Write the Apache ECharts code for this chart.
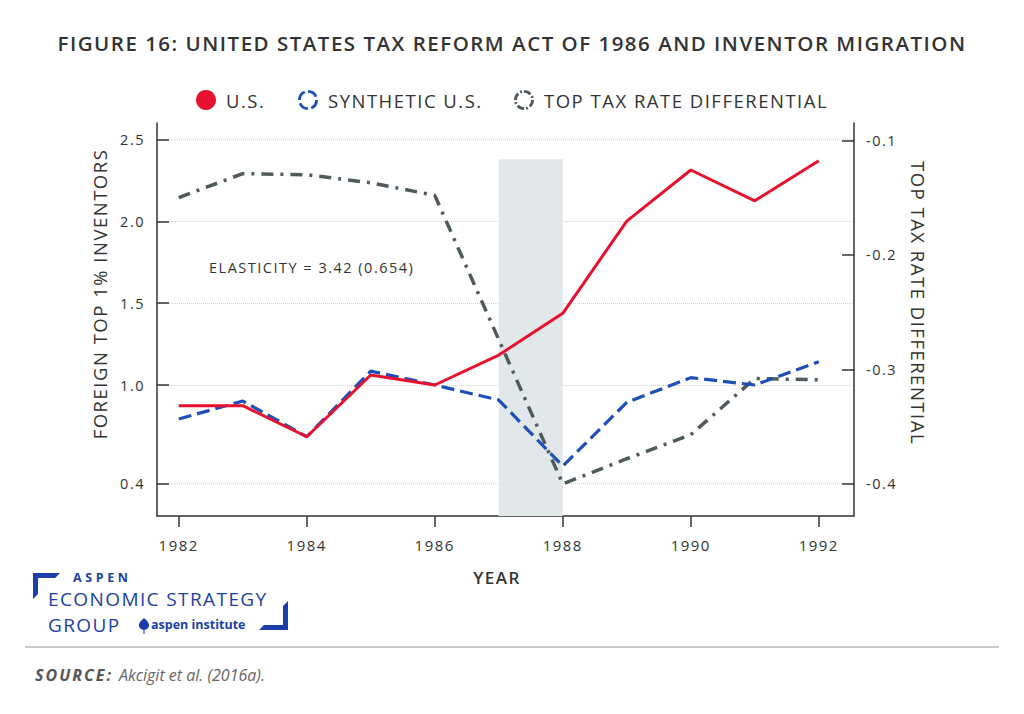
<!DOCTYPE html>
<html lang="en">
<head>
<meta charset="UTF-8">
<title>Figure 16</title>
<script src="https://cdn.jsdelivr.net/npm/echarts@6.0.0/dist/echarts.min.js"></script>
<style>
    html, body { margin: 0; padding: 0; background: #fff; }
    #main { width: 1024px; height: 714px; position: absolute; left: 0; top: 0; }
    #main svg text { letter-spacing: 1.5px; }
    #logo { position: absolute; left: 0; top: 0; width: 1024px; height: 714px; pointer-events: none; }
</style>
</head>
<body>
<div id="main"></div>
<svg id="logo" width="1024" height="714" xmlns="http://www.w3.org/2000/svg">
    <!-- logo -->
    <polygon points="33,573 60,573 55,578 38,578 38,594 33,599" fill="#1b3fa8"/>
    <polygon points="288,601 288,630 259,630 264,625 283,625 283,606" fill="#1b3fa8"/>
    <text x="73" y="582" font-family="Open Sans" font-weight="700" font-size="12.5" letter-spacing="3.6" fill="#1b3fa8">ASPEN</text>
    <text x="48" y="606" font-family="Open Sans" font-weight="400" font-size="19" letter-spacing="1.4" fill="#1b3fa8">ECONOMIC STRATEGY</text>
    <text x="48" y="632" font-family="Open Sans" font-weight="400" font-size="19" letter-spacing="1.4" fill="#1b3fa8">GROUP</text>
    <path d="M144,618 C139,622 137,626 141,629 L143.5,630 L143.5,634 L144.5,634 L144.5,630 L147,629 C151,626 149,622 144,618 Z" fill="#1b3fa8"/>
    <text x="151" y="629" font-family="Open Sans" font-weight="700" font-size="12.5" fill="#1b3fa8">aspen institute</text>
    <!-- source -->
    <line x1="25" y1="647" x2="999" y2="647" stroke="#c8c8c8" stroke-width="2"/>
    <text x="35" y="681" font-family="Open Sans" font-size="16" fill="#555"><tspan font-weight="700" font-style="italic" letter-spacing="2">SOURCE:</tspan><tspan font-style="italic" fill="#666" dx="6">Akcigit et al. (2016a).</tspan></text>
</svg>

<script type="text/javascript">
    // 数据
    var years = [1982, 1983, 1984, 1985, 1986, 1987, 1988, 1989, 1990, 1991, 1992];
    var usValues = [0.874, 0.874, 0.684, 1.061, 1.0, 1.183, 1.438, 2.001, 2.313, 2.125, 2.369];
    var syntheticValues = [0.792, 0.902, 0.684, 1.085, 1.0, 0.908, 0.505, 0.894, 1.045, 1.0, 1.142];
    var taxDiffValues = [-0.150, -0.129, -0.130, -0.137, -0.148, -0.274, -0.400, -0.378, -0.357, -0.308, -0.309];
    var xTicks = [1982, 1984, 1986, 1988, 1990, 1992];
    var leftTicks = [0.4, 1.0, 1.5, 2.0, 2.5];
    var rightTicks = [-0.4, -0.3, -0.2, -0.1];
    var reformYears = [1987, 1988];

    function pairs(vals) {
        var out = [];
        for (var i = 0; i < years.length; i++) out.push([years[i], vals[i]]);
        return out;
    }

    // 图例的虚线圆环图标
    function ringIcon(segs) {
        var R = 10, r = 7.2, d = '', a = -90;
        function pt(rad, deg) {
            var t = deg * Math.PI / 180;
            return (10 + rad * Math.cos(t)).toFixed(2) + ' ' + (10 + rad * Math.sin(t)).toFixed(2);
        }
        for (var i = 0; i < segs.length; i += 2) {
            var a1 = a, a2 = a + segs[i];
            d += 'M' + pt(R, a1) + ' A' + R + ' ' + R + ' 0 0 1 ' + pt(R, a2) +
                ' L' + pt(r, a2) + ' A' + r + ' ' + r + ' 0 0 0 ' + pt(r, a1) + ' Z ';
            a = a2 + segs[i + 1];
        }
        return 'path://' + d;
    }

    var red = '#e8112d', blue = '#1d4fbb', gray = '#4f5b57', ink = '#333';
    var font = 'Open Sans';

    // 每个图例单独放(字距不计入图例宽度)
    function legendAt(left, item) {
        return {
            top: 85,
            left: left,
            itemWidth: 20,
            itemHeight: 20,
            textStyle: {fontFamily: font, fontSize: 18.5, color: ink, padding: [0, 0, 0, 5]},
            data: [item]
        };
    }

    var myChart = echarts.init(document.getElementById('main'), null, {renderer: 'svg'});
    var option = {
        animation: false,
        title: {
            text: 'FIGURE 16: UNITED STATES TAX REFORM ACT OF 1986 AND INVENTOR MIGRATION',
            left: 'center',
            top: 27,
            textStyle: {fontFamily: font, fontSize: 20.5, fontWeight: 600, color: ink}
        },
        legend: [
            legendAt(191, {name: 'U.S.', icon: 'circle', itemStyle: {color: red}}),
            legendAt(293, {name: 'SYNTHETIC U.S.', icon: ringIcon([68, 22, 68, 22, 68, 22, 68, 22]), itemStyle: {color: blue}}),
            legendAt(509, {name: 'TOP TAX RATE DIFFERENTIAL', icon: ringIcon([48, 16, 12, 14, 48, 16, 12, 14, 48, 16, 12, 14, 48, 16, 12, 14]), itemStyle: {color: gray}})
        ],
        grid: {left: 157, right: 170, top: 123, bottom: 198},
        xAxis: {
            type: 'value',
            min: 1981.66,
            max: 1992.55,
            axisLine: {lineStyle: {color: ink, width: 1.5}},
            axisTick: {customValues: xTicks, length: 11, lineStyle: {color: ink, width: 1.5}},
            axisLabel: {
                customValues: xTicks, margin: 21, fontFamily: font, fontSize: 15, color: ink,
                formatter: function (v) { return String(v); }
            },
            splitLine: {show: false}
        },
        yAxis: [{
            type: 'value',
            min: 0.2,
            max: 2.6,
            axisLine: {show: true, lineStyle: {color: ink, width: 1.5}},
            axisTick: {show: true, inside: true, length: 12, customValues: leftTicks, lineStyle: {color: ink, width: 1.5}},
            axisLabel: {
                customValues: leftTicks, margin: 12, fontFamily: font, fontSize: 14.5, color: ink,
                formatter: function (v) { return v.toFixed(1); }
            },
            splitLine: {show: true, lineStyle: {color: '#cfcfcf', type: 'dotted', width: 1}}
        }, {
            type: 'value',
            min: -0.428,
            max: -0.0848,
            position: 'right',
            axisLine: {show: true, lineStyle: {color: ink, width: 1.5}},
            axisTick: {show: true, inside: true, length: 12, customValues: rightTicks, lineStyle: {color: ink, width: 1.5}},
            axisLabel: {
                customValues: rightTicks, margin: 12, fontFamily: font, fontSize: 14.5, color: ink,
                formatter: function (v) { return v.toFixed(1); }
            },
            splitLine: {show: false}
        }],
        graphic: [{
            type: 'text', x: 99, y: 294, rotation: Math.PI / 2,
            style: {text: 'FOREIGN TOP 1% INVENTORS', fontFamily: font, fontSize: 18.5, fontWeight: 500, fill: ink, align: 'center', verticalAlign: 'middle'}
        }, {
            type: 'text', x: 918, y: 303, rotation: -Math.PI / 2,
            style: {text: 'TOP TAX RATE DIFFERENTIAL', fontFamily: font, fontSize: 18.5, fontWeight: 500, fill: ink, align: 'center', verticalAlign: 'middle'}
        }, {
            type: 'text', x: 497, y: 577,
            style: {text: 'YEAR', fontFamily: font, fontSize: 17, fontWeight: 600, fill: ink, align: 'center', verticalAlign: 'middle'}
        }, {
            type: 'text', x: 209, y: 267,
            style: {text: 'ELASTICITY = 3.42 (0.654)', fontFamily: font, fontSize: 14.5, fontWeight: 500, fill: ink, align: 'left', verticalAlign: 'middle'}
        }],
        series: [{
            name: 'reform',
            type: 'line',
            data: [],
            z: 1,
            markArea: {
                silent: true,
                itemStyle: {color: '#e2e8ea'},
                data: [[{xAxis: reformYears[0], yAxis: 0.2}, {xAxis: reformYears[1], yAxis: 2.378}]]
            }
        }, {
            name: 'TOP TAX RATE DIFFERENTIAL',
            type: 'line',
            yAxisIndex: 1,
            data: pairs(taxDiffValues),
            symbol: 'none',
            color: gray,
            lineStyle: {color: gray, width: 3.5, type: [12, 7, 3, 7]}
        }, {
            name: 'SYNTHETIC U.S.',
            type: 'line',
            data: pairs(syntheticValues),
            symbol: 'none',
            color: blue,
            lineStyle: {color: blue, width: 3.2, type: [13, 6]}
        }, {
            name: 'U.S.',
            type: 'line',
            data: pairs(usValues),
            symbol: 'none',
            color: red,
            lineStyle: {color: red, width: 3}
        }]
    };
    myChart.setOption(option);
</script>
</body>
</html>
